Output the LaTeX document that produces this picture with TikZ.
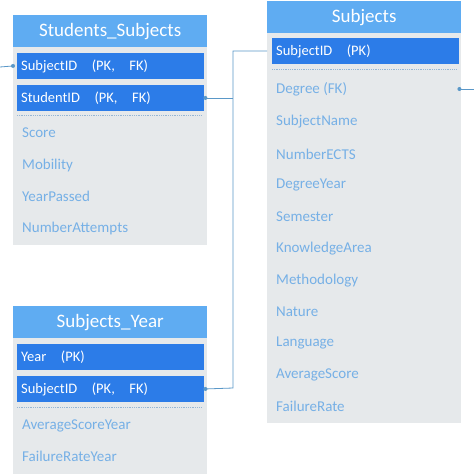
\documentclass[tikz,border=0pt]{standalone}
\usepackage{fontspec}
\setmainfont{Carlito}
\definecolor{hdr}{RGB}{95,172,242}
\definecolor{keyc}{RGB}{44,124,232}
\definecolor{bodyc}{RGB}{230,233,235}
\definecolor{attrc}{RGB}{118,176,230}
\definecolor{linec}{RGB}{90,152,200}
\definecolor{sepc}{RGB}{150,182,212}
\begin{document}
\begin{tikzpicture}[x=1pt,y=-1pt,
  tbody/.style={fill=bodyc,draw=none,anchor=north west,inner sep=0pt,minimum width=194pt},
  thead/.style={fill=hdr,draw=none,anchor=north west,inner sep=0pt,minimum width=194pt,minimum height=32pt,text=white,font=\fontsize{19}{22}\selectfont},
  keyrow/.style={fill=keyc,draw=none,anchor=north west,inner sep=0pt,minimum width=185pt,minimum height=25.5pt,text=white,font=\fontsize{14.5}{17}\selectfont,text width=179pt,align=left,inner xsep=4pt},
  attr/.style={anchor=west,inner sep=0pt,text=attrc,font=\fontsize{15}{17}\selectfont},
  sep/.style={sepc,densely dotted,line width=0.8pt},
  conn/.style={linec,line width=0.8pt},
  dot/.style={circle,fill=linec,inner sep=0pt,minimum size=4pt}]
\useasboundingbox (0,0) rectangle (474,474);
\fill[white] (0,0) rectangle (474,474);
% Students_Subjects
\node[tbody,minimum height=230pt] (ssb) at (13,15) {};
\node[thead] (ssh) at (13,15) {Students\_Subjects};
\node[keyrow] (sssub) at (17,53) {SubjectID\quad (PK,\quad FK)};
\node[keyrow] (ssstu) at (17,85) {StudentID\quad (PK,\quad FK)};
\draw[sep] (17,115) -- (202,115);
\node[attr] (ss1) at (22,133) {Score};
\node[attr] (ss2) at (22,165) {Mobility};
\node[attr] (ss3) at (22,196) {YearPassed};
\node[attr] (ss4) at (22,228) {NumberAttempts};
% Subjects
\node[tbody,minimum height=422pt] (sb) at (267,1) {};
\node[thead] (sh) at (267,1) {Subjects};
\node[keyrow] (ssid) at (272,38) {SubjectID\quad (PK)};
\draw[sep] (272,69) -- (457,69);
\node[attr] (s1) at (276,89) {Degree (FK)};
\node[attr] (s2) at (276,122) {SubjectName};
\node[attr] (s3) at (276,154) {NumberECTS};
\node[attr] (s4) at (276,185) {DegreeYear};
\node[attr] (s5) at (276,217) {Semester};
\node[attr] (s6) at (276,249) {KnowledgeArea};
\node[attr] (s7) at (276,281) {Methodology};
\node[attr] (s8) at (276,312) {Nature};
\node[attr] (s9) at (276,343) {Language};
\node[attr] (s10) at (276,375) {AverageScore};
\node[attr] (s11) at (276,406) {FailureRate};
% Subjects_Year
\node[tbody,minimum height=168pt] (syb) at (13,306) {};
\node[thead] (syh) at (13,306) {Subjects\_Year};
\node[keyrow] (syyear) at (17,344) {Year\quad (PK)};
\node[keyrow] (sysub) at (17,376) {SubjectID\quad (PK,\quad FK)};
\draw[sep] (17,407) -- (202,407);
\node[attr] (sy1) at (22,426) {AverageScoreYear};
\node[attr] (sy2) at (22,456) {FailureRateYear};
% connectors
\coordinate (lstub) at (0,67);
\coordinate (rstub) at (474,89);
\coordinate (bustop) at (233,51);
\coordinate (busbot) at (233,388);
\node[dot] (d1) at (sssub.west -| ssb.west) {};
\node[dot] (d2) at ([xshift=-2pt]ssstu.east -| ssb.east) {};
\node[dot] (d3) at ([xshift=-2pt]sysub.east -| syb.east) {};
\node[dot] (d4) at ([xshift=-2pt]s1.west -| sb.east) {};
\draw[conn] (lstub) -- (d1.center);
\draw[conn] (d2.center) -- (d2.center -| bustop);
\draw[conn] (sb.west |- bustop) -- (bustop) -- (busbot) -- (d3.center);
\draw[conn] (d4.center) -- (rstub);
\end{tikzpicture}
\end{document}
